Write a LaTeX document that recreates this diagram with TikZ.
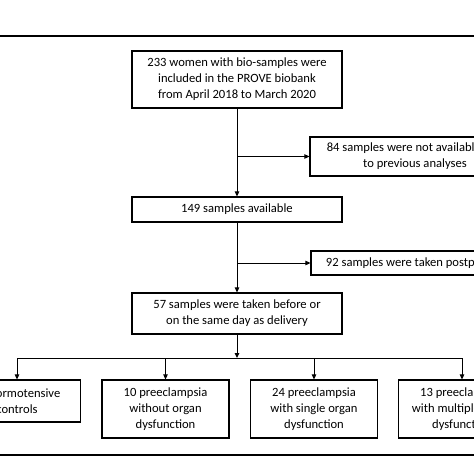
\documentclass[tikz,border=0pt]{standalone}
\usepackage{fontspec}
\setmainfont{Carlito}
\usetikzlibrary{arrows.meta,positioning}

\begin{document}
\begin{tikzpicture}[
    x=1pt, y=-1pt,
    box/.style={draw, line width=1.2pt, align=center, inner sep=0pt, minimum width=210pt, font=\fontsize{12.6}{16}\selectfont},
    group/.style={box, minimum width=127pt, minimum height=58pt},
    arrow/.style={-{Triangle[length=5pt,width=4.5pt]}, line width=1pt},
    rule/.style={line width=1.1pt}
  ]
    \useasboundingbox (0,0) rectangle (474,474);
    \clip (0,0) rectangle (474,474);
    \draw[rule] (0,36) -- (474,36);
    \draw[rule] (0,455) -- (474,455);

    \node[box, minimum height=57pt] (all) at (237,79.5) {233 women with bio-samples were\\included in the PROVE biobank\\from April 2018 to March 2020};
    \node[box, minimum height=25pt] (avail) at (237,209.5) {149 samples available};
    \node[box, minimum height=39pt] (prev) at (415,156.5) {84 samples were not available due\\to previous analyses};
    \node[box, minimum height=24pt] (post) at (416,263) {92 samples were taken postpartum};
    \node[box, minimum height=41pt] (before) at (237,313.5) {57 samples were taken before or\\on the same day as delivery};
    \node[group, minimum height=42pt] (norm) at (17,401) {10 normotensive\\controls};
    \node[group] (pe0) at (165.5,409) {10 preeclampsia\\without organ\\dysfunction};
    \node[group] (pe1) at (314,409) {24 preeclampsia\\with single organ\\dysfunction};
    \node[group] (pe2) at (462,409) {13 preeclampsia\\with multiple organ\\dysfunction};

    \coordinate (b1) at (all.south |- prev.west);
    \coordinate (b2) at (avail.south |- post.west);
    \coordinate (split) at (237,358);

    \draw[arrow] (all) -- (avail);
    \draw[arrow] (b1) -- (prev);
    \draw[arrow] (avail) -- (before);
    \draw[arrow] (b2) -- (post);
    \draw[arrow] (before) -- (split);
    \draw[line width=1pt] (split -| norm.north) -- (split -| pe2.north);
    \foreach \g in {norm, pe0, pe1, pe2}
      \draw[arrow] (split -| \g.north) -- (\g.north);
\end{tikzpicture}
\end{document}
